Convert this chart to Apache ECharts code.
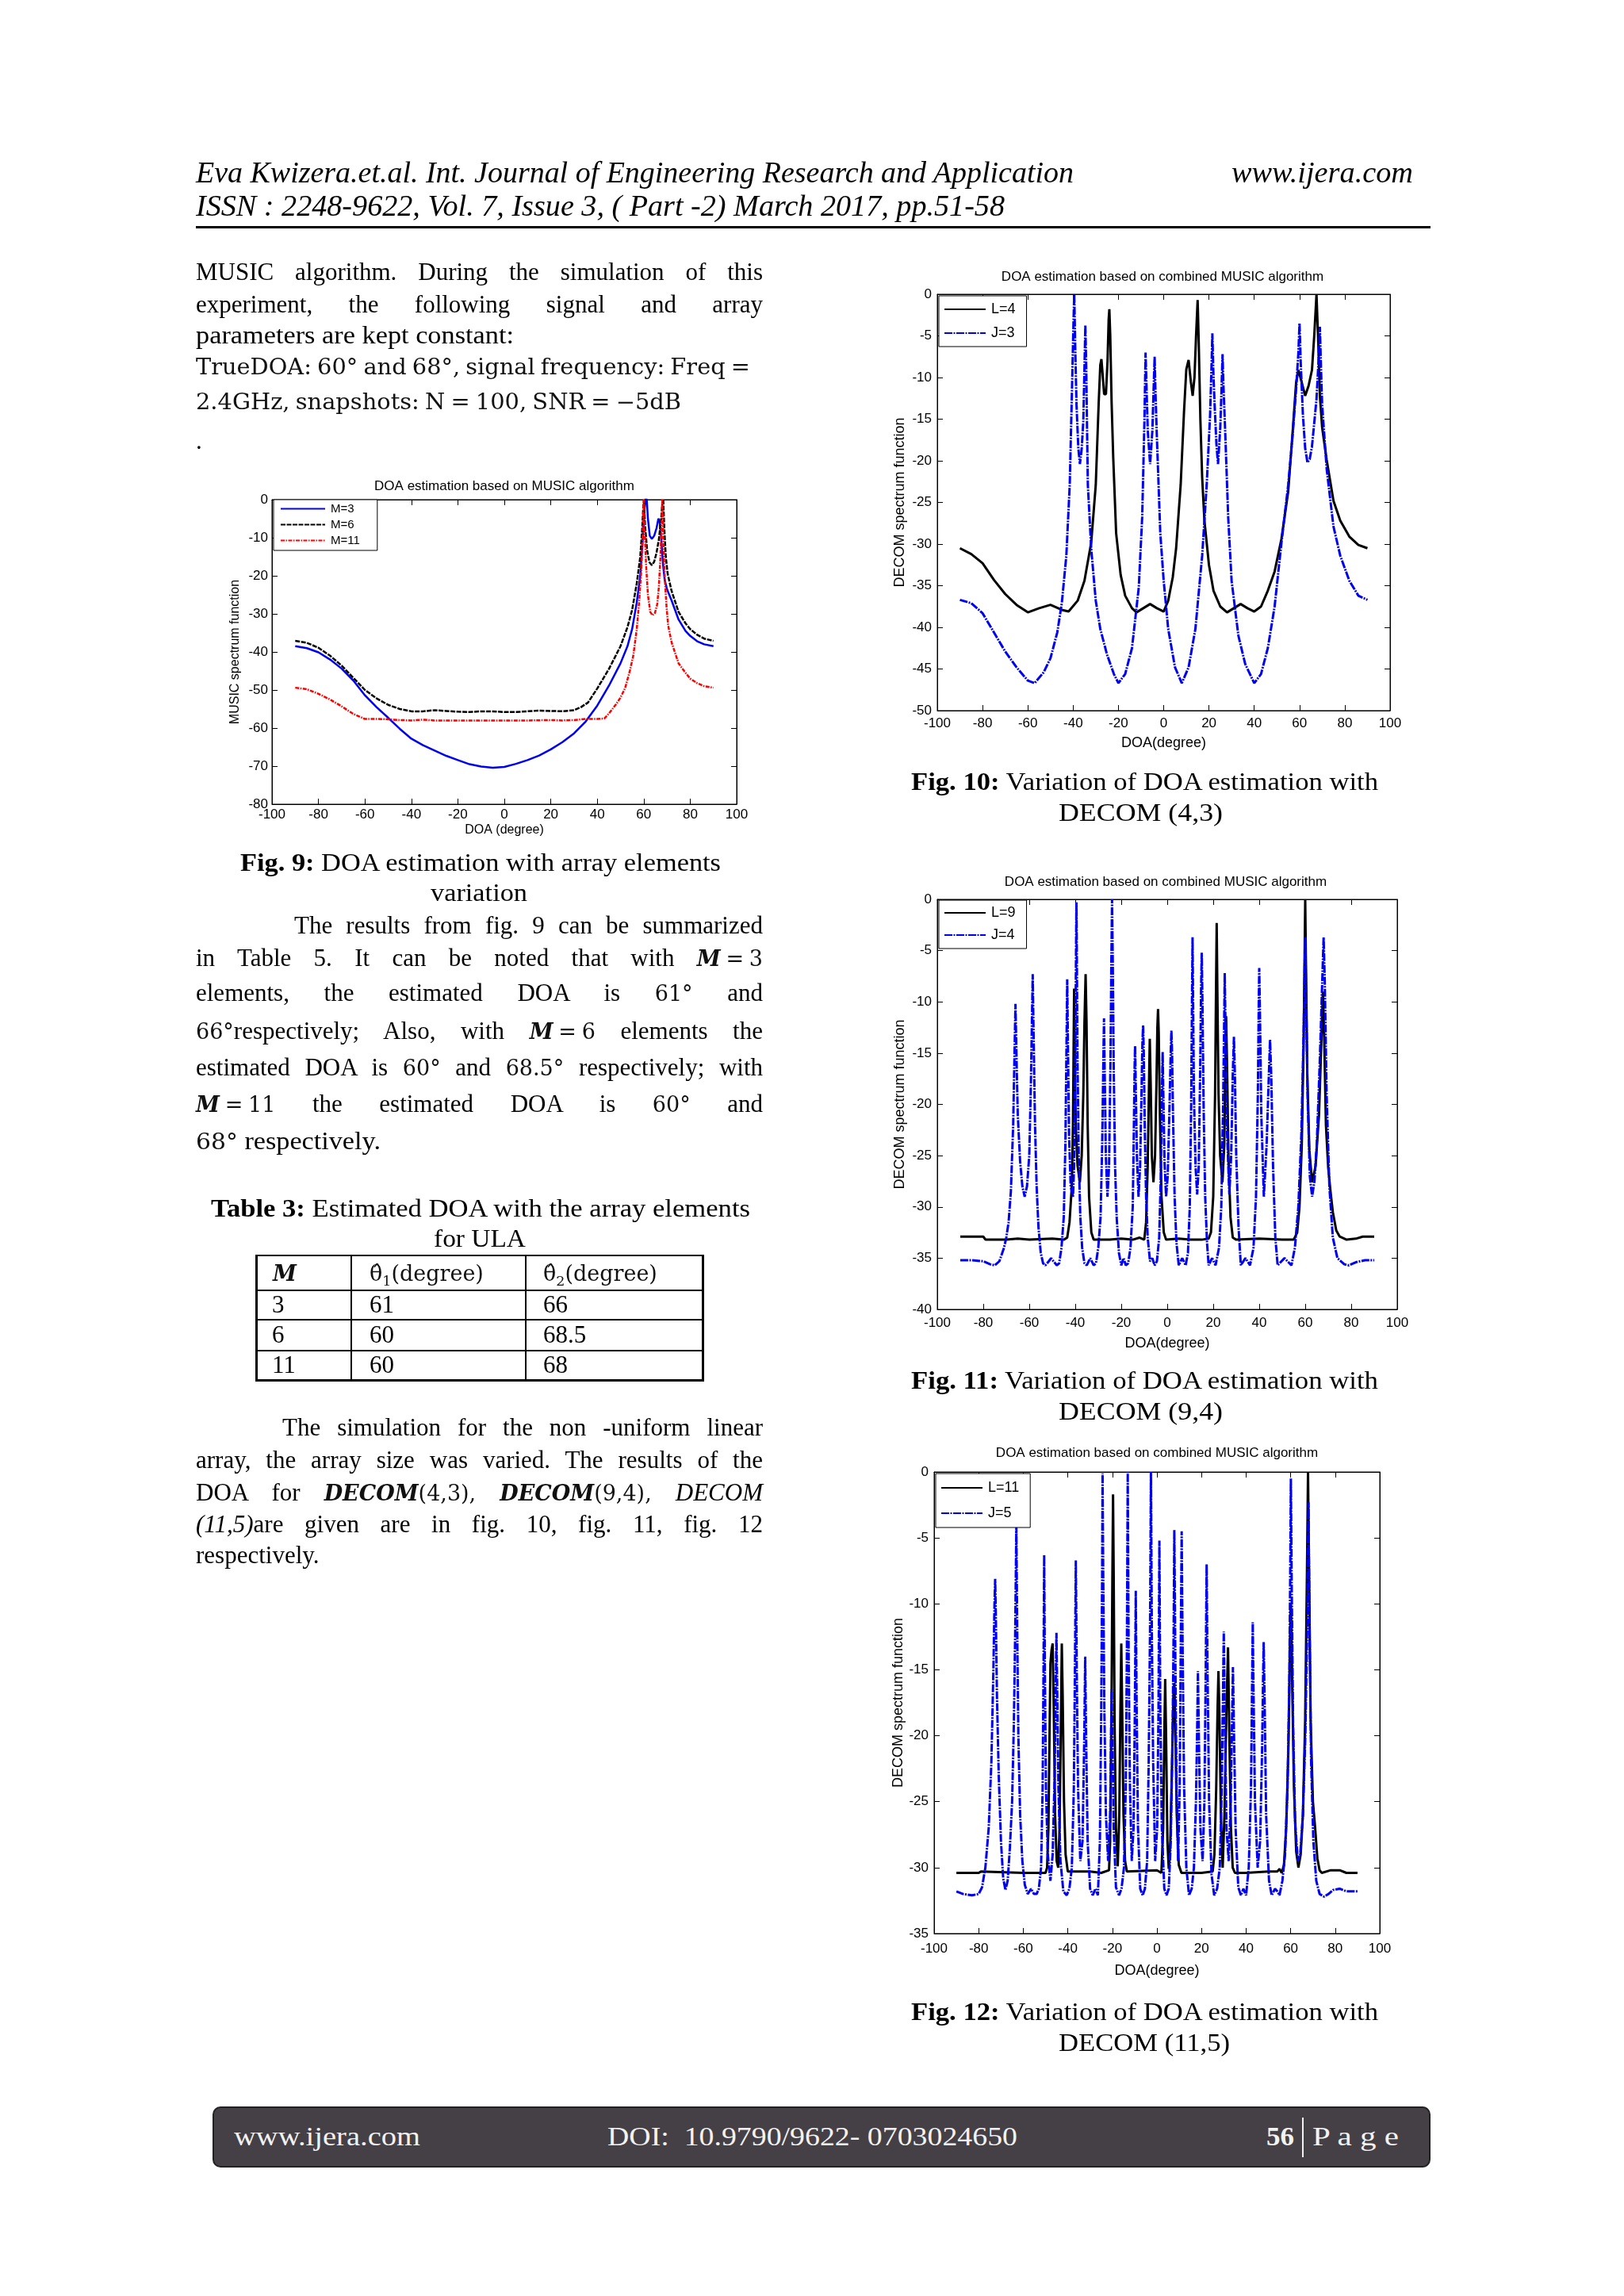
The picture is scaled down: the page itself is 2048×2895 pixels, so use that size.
<!DOCTYPE html>
<html><head><meta charset="utf-8">
<script src="https://cdn.jsdelivr.net/npm/echarts@6/dist/echarts.min.js"></script>
<style>
html,body{margin:0;padding:0;background:#fff;}
#page{position:relative;width:2048px;height:2895px;overflow:hidden;background:#fff;}
#chart{position:absolute;left:0;top:0;width:2048px;height:2895px;z-index:1;}
.t{position:absolute;white-space:nowrap;font-family:'Liberation Serif','Times New Roman',serif;font-size:31px;line-height:40px;color:#000;transform-origin:0 50%;z-index:3;}
.hd{font-style:italic;font-size:37px;line-height:44px;}
.m{font-family:'DejaVu Serif',serif;font-size:27px;color:#111;}
.mi{font-family:'DejaVu Serif',serif;font-style:italic;font-weight:bold;font-size:27px;color:#111;}
.ft{color:#f2f2f2;font-size:34px;}
.ln{position:absolute;background:#000;z-index:3;}
sub{font-size:65%;}
</style></head>
<body><div id="page"><div id="chart"></div></div>
<script>
// ---------------- DATA ----------------
const xRange = [-100, 100, 20];
const fig9YRange = [-80, 0, 10];
const fig10YRange = [-50, 0, 5];
const fig11YRange = [-40, 0, 5];
const fig12YRange = [-35, 0, 5];

const fig9Names = ['M=3', 'M=6', 'M=11'];
const fig9_M3 = [[-90,-38.5],[-85,-39],[-80,-40.1],[-75,-42],[-70,-44.4],[-65,-47.5],[-60,-51.4],[-55,-54.5],[-50,-57.3],[-45,-60.2],[-40,-62.8],[-35,-64.5],[-30,-65.9],[-25,-67.3],[-20,-68.4],[-15,-69.5],[-10,-70.1],[-5,-70.4],[0,-70.2],[5,-69.4],[10,-68.4],[15,-67.2],[20,-65.6],[25,-63.7],[30,-61.4],[35,-58.3],[40,-54.1],[45,-48.9],[50,-43],[53,-38.5],[55,-34],[57,-27],[58.5,-20],[59.5,-11],[60.3,-3],[60.8,0.5],[61.3,0],[61.8,-5],[62.6,-9.5],[63.5,-10.3],[64.5,-9.5],[65.5,-7.5],[66.3,-5],[66.8,-5.5],[67.5,-10],[68.3,-17],[69,-21],[70,-23.5],[72,-26.5],[75,-31.5],[78,-34.5],[80,-35.8],[83,-37.2],[86,-38],[90,-38.5]];
const fig9_M6 = [[-90,-37.1],[-85,-37.6],[-80,-38.9],[-75,-41],[-70,-43.6],[-65,-46.8],[-60,-50],[-55,-52.2],[-50,-53.9],[-45,-55],[-40,-55.6],[-35,-55.6],[-30,-55.3],[-25,-55.5],[-20,-55.7],[-15,-55.8],[-10,-55.6],[-5,-55.6],[0,-55.8],[5,-55.8],[10,-55.6],[15,-55.4],[20,-55.5],[25,-55.6],[30,-55.3],[33,-54.5],[36,-53.3],[40,-49.6],[45,-44.5],[50,-38.5],[53,-33.5],[55,-29],[57,-22],[58.5,-15],[59.3,-8],[59.8,-2],[60.1,0],[60.6,-7],[61.5,-13.5],[62.5,-16.5],[63.5,-17.2],[64.5,-16.3],[65.5,-14],[66.5,-10.5],[67.5,-5],[68,-1],[68.4,0],[68.9,-8],[69.5,-15],[70.3,-19.5],[72,-24],[75,-29.5],[78,-32.5],[80,-34],[83,-35.5],[86,-36.5],[90,-37.1]];
const fig9_M11 = [[-90,-49.4],[-85,-49.8],[-80,-51],[-75,-52.5],[-70,-54.3],[-65,-56.3],[-60,-57.6],[-55,-57.6],[-50,-57.7],[-45,-57.9],[-40,-58],[-35,-57.8],[-30,-58],[-20,-58],[-10,-58],[0,-58],[10,-58],[20,-57.9],[25,-58],[30,-57.9],[35,-57.6],[40,-57.6],[43,-57.5],[45,-56.2],[48,-53.8],[50,-52],[52,-49.5],[54,-45],[55.5,-41],[57,-34],[58,-27],[59,-18],[59.6,-8],[60,0],[60.4,-8],[61,-17],[61.8,-25],[62.8,-29.5],[63.8,-30.4],[64.8,-29.8],[65.8,-27.5],[66.5,-23],[67.2,-15],[67.7,-6],[68,0],[68.4,-10],[69,-20],[69.8,-28],[70.5,-33],[72,-37.5],[75,-43],[78,-45.5],[80,-47],[83,-48.2],[86,-49],[90,-49.4]];

const fig10Names = ['L=4', 'J=3'];
const fig10_L4 = [[-90,-30.5],[-85,-31.2],[-80,-32.3],[-75,-34.3],[-70,-36],[-65,-37.3],[-60,-38.2],[-55,-37.7],[-50,-37.3],[-45,-37.9],[-42,-38.1],[-38,-36.8],[-35,-34.4],[-32,-29.8],[-30,-22.9],[-28.7,-13],[-28,-8.5],[-27.5,-7.8],[-27,-9.5],[-26.3,-12],[-25.5,-12],[-24.8,-8],[-24.3,-3],[-24,-1.8],[-23.6,-5],[-23,-13],[-22.3,-19.5],[-21,-28.7],[-19,-33.7],[-17,-36.2],[-14,-37.7],[-12,-38.2],[-9,-37.7],[-6,-37.2],[-3,-37.7],[0,-38.1],[2,-36.8],[4,-34],[5.5,-30.5],[7.5,-22.9],[9,-14],[10,-9],[11,-7.9],[12,-10.5],[12.8,-12.2],[13.6,-10],[14.3,-5],[15,-0.7],[15.5,-6],[16.2,-15],[17,-22],[18,-27.2],[20,-32.5],[22,-35.6],[25,-37.5],[28,-38.2],[31,-37.7],[34,-37.2],[37,-37.7],[40,-38.1],[43,-37.5],[46,-35.6],[49,-33.3],[52,-29.4],[55,-23.7],[57,-16.4],[58.5,-10.6],[59.5,-9.1],[61,-10.6],[62.5,-12.2],[64,-11],[65.5,-9.1],[66.5,-5],[67.5,0],[68.3,-6],[69,-12.2],[70,-16],[72,-19.9],[75,-24.8],[78,-27.2],[82,-29.1],[86,-30.1],[90,-30.5]];
const fig10_J3 = [[-90,-36.7],[-85,-37.1],[-80,-38.3],[-75,-40.6],[-70,-42.9],[-65,-44.8],[-60,-46.4],[-57,-46.7],[-53,-45.4],[-50,-43.7],[-47,-40.6],[-45,-37.1],[-43,-31.4],[-41.5,-22.9],[-40.5,-11.4],[-39.8,-3],[-39.5,0],[-39.1,-6],[-38.5,-13.3],[-37.7,-18.5],[-37,-20.4],[-36.2,-18.5],[-35.5,-15.2],[-35,-9],[-34.6,-3.7],[-34.2,-9],[-33.5,-22.9],[-32,-30.6],[-30,-36.8],[-28,-40.2],[-25,-43.3],[-22,-45.6],[-20,-46.7],[-17,-45.6],[-14,-42.5],[-11,-35.2],[-9.5,-26.8],[-8.5,-15.2],[-8,-7],[-7.5,-12],[-7,-16.5],[-6,-20.4],[-5,-16.4],[-4.4,-11],[-4,-7.5],[-3.6,-12],[-3,-17.2],[-1.5,-28.7],[0,-34.4],[2,-40.2],[5,-44.8],[8,-46.7],[11,-44.8],[14,-40.2],[17,-31.4],[19,-22.9],[20.5,-14.5],[21.2,-8],[21.5,-4.7],[21.9,-9],[22.5,-13.3],[23.3,-18],[24,-20.4],[25,-16],[25.6,-11],[26,-7.2],[26.4,-11],[27,-15.2],[28.5,-26.8],[30,-34.4],[33,-41],[36,-44.4],[40,-46.7],[43,-45.6],[46,-42.5],[49,-37.5],[52,-29.9],[55,-22.9],[57,-16.8],[58.5,-11.4],[59.5,-7],[60,-3.5],[60.5,-8],[61.5,-14.5],[62.5,-18.5],[63.5,-20.2],[64.5,-19.8],[65.5,-18.3],[67.5,-12.6],[68.4,-8],[69,-3.9],[69.5,-9],[70,-13.3],[72,-21],[75,-27.9],[78,-31.4],[82,-34.4],[86,-36.2],[90,-36.7]];

const fig11Names = ['L=9', 'J=4'];
const fig11_L9 = [[-90,-32.9],[-80,-32.9],[-79,-33.2],[-70,-33.2],[-65,-33.1],[-60,-33.2],[-50,-33.1],[-45,-33.2],[-43.5,-33],[-42.5,-31.5],[-41.5,-28],[-41,-22],[-40.7,-14],[-40.5,-8.7],[-40.2,-15],[-39.8,-22],[-39,-26],[-38,-27.6],[-37.2,-25],[-36.5,-19],[-36,-12],[-35.5,-7.3],[-35.1,-12],[-34.6,-22],[-34,-29],[-33,-32.5],[-32,-33.2],[-25,-33.2],[-20,-33.1],[-15,-33.2],[-12,-33],[-10,-33.2],[-9.2,-31.5],[-8.5,-26],[-8,-19],[-7.6,-13.6],[-7.2,-18],[-6.7,-25],[-6,-27.6],[-5.3,-25],[-4.7,-18],[-4.3,-12.5],[-4,-10.7],[-3.7,-13],[-3.2,-21],[-2.5,-29],[-1.5,-32.5],[-0.5,-33.2],[5,-33.1],[10,-33.2],[15,-33.2],[18,-33.1],[19,-32.5],[20,-29],[20.8,-19],[21.2,-9],[21.5,-2.3],[21.8,-9],[22.3,-19],[23,-25],[24,-27.6],[24.8,-24],[25.3,-16],[25.6,-11.4],[26,-16],[26.6,-25],[27.5,-31],[28.5,-33],[30,-33.2],[40,-33.1],[50,-33.2],[55,-33.2],[56.5,-32.5],[57.5,-30],[58.5,-24],[59.3,-14],[59.8,-4],[60,0],[60.3,-6],[60.9,-17],[61.8,-24.5],[63,-27.6],[64.5,-26],[66,-21],[67,-14],[67.7,-9],[68.3,-14],[69,-22],[70,-26.2],[71,-28.5],[72,-30.5],[73.5,-32.3],[75,-32.9],[78,-33.2],[82,-33.1],[85,-32.9],[90,-32.9]];
const fig11_J4 = [[-90,-35.2],[-85,-35.2],[-80,-35.3],[-77,-35.6],[-75,-35.7],[-73,-35.3],[-71,-34],[-70,-33],[-69,-31.5],[-68,-28.5],[-67,-22],[-66.5,-16],[-66,-10.2],[-65.5,-16],[-65,-21],[-64,-25.5],[-63,-28],[-62,-29],[-61,-28],[-60,-25],[-59.3,-18],[-58.7,-10],[-58.5,-7.3],[-58.2,-12],[-57.5,-22],[-56.8,-28],[-56,-32],[-55,-34.5],[-54,-35.5],[-53,-35.7],[-51.5,-35.3],[-50.5,-35],[-49.5,-35.3],[-48,-35.7],[-47,-35.5],[-46,-34],[-45,-31],[-44.3,-24],[-43.8,-14],[-43.5,-7.8],[-43.2,-14],[-42.7,-23],[-42,-28],[-41,-29],[-40.5,-26],[-40,-16],[-39.7,-6],[-39.5,-0.3],[-39.3,-6],[-39,-16],[-38.5,-25],[-37.8,-31],[-37,-34],[-36,-35.5],[-35,-35.7],[-33.5,-35],[-32,-35.7],[-31,-35.5],[-30,-34],[-29,-31],[-28.3,-24],[-27.8,-16],[-27.5,-11.6],[-27.2,-17],[-26.7,-25],[-26,-29],[-25.3,-26],[-24.7,-16],[-24.3,-6],[-24,0],[-23.7,-6],[-23.3,-16],[-22.7,-26],[-22,-31],[-21,-34.5],[-20,-35.7],[-19,-35],[-18,-35.7],[-17,-35.5],[-16,-34],[-15,-30],[-14.5,-22],[-14.2,-16.5],[-14,-14.3],[-13.7,-18],[-13.2,-25],[-12.5,-29],[-11.8,-26],[-11.2,-19],[-10.8,-14],[-10.5,-12.3],[-10.2,-15],[-9.8,-22],[-9.2,-29],[-8.5,-33],[-7.5,-35.3],[-6.5,-35],[-5.5,-35.7],[-4.5,-35.3],[-3.5,-33],[-2.8,-27],[-2.3,-19],[-2,-14.9],[-1.7,-19],[-1.2,-25.5],[-0.5,-29],[0.2,-27],[0.9,-21],[1.5,-15],[1.8,-12.8],[2.1,-15],[2.5,-21],[3.2,-29],[4,-33.5],[5,-35.7],[6.5,-35],[8,-35.7],[9,-34.5],[9.8,-30],[10.4,-20],[10.8,-9],[11,-3.7],[11.2,-9],[11.6,-19],[12.3,-26],[13,-28.8],[13.7,-26],[14.3,-17],[14.7,-9],[15,-5.2],[15.3,-10],[15.8,-20],[16.5,-29],[17.3,-33.5],[18,-35.7],[19.5,-35],[21,-35.7],[22.5,-34],[23.5,-30],[24.3,-20],[24.8,-11],[25,-7.2],[25.3,-12],[25.9,-22],[27,-28.8],[27.8,-25],[28.5,-17],[29,-13.4],[29.4,-17],[30,-25],[31,-32],[32,-35.7],[34,-35],[36,-35.7],[37.5,-34],[38.6,-29],[39.4,-19],[39.8,-10],[40,-6.7],[40.3,-11],[40.9,-21],[42,-29],[43.2,-24],[44.2,-17],[44.7,-13.7],[45.2,-17],[46,-26],[47,-33],[48,-35.7],[51,-35],[54,-35.7],[55.5,-34],[57,-30],[58.3,-23],[59.3,-13],[59.8,-6],[60,-3.7],[60.3,-8],[61,-19],[62,-27],[63,-29],[64,-27.5],[65,-24],[66.3,-16],[67.4,-8],[68,-3.7],[68.5,-8],[69.3,-19],[70.5,-28],[72,-33],[74,-35],[77,-35.6],[79,-35.7],[82,-35.4],[86,-35.2],[90,-35.2]];

const fig12Names = ['L=11', 'J=5'];
const fig12_L11 = [[-90,-30.4],[-80,-30.4],[-79,-30.3],[-60,-30.4],[-50,-30.4],[-49.3,-30],[-48.7,-27],[-48.2,-20],[-47.8,-14.5],[-47.3,-13.5],[-46.8,-13],[-46.3,-18],[-45.7,-26],[-45,-29.5],[-44.3,-30],[-43.7,-27],[-43.1,-19],[-42.7,-13],[-42.3,-17],[-41.7,-25],[-41,-29],[-40,-30.3],[-30,-30.3],[-25,-30.4],[-21.5,-30.2],[-21,-28],[-20.4,-18],[-20,-8],[-19.7,-1.7],[-19.4,-8],[-19,-19],[-18.4,-27],[-17.6,-29.9],[-16.9,-26],[-16.4,-18],[-16,-13],[-15.6,-18],[-15,-26],[-14.3,-29.5],[-13.5,-30.3],[0,-30.2],[2,-30.4],[2.8,-27],[3.3,-20],[3.7,-15.7],[4.1,-20],[4.7,-28],[5.3,-30.1],[6,-28],[6.8,-22],[7.4,-17],[7.8,-16],[8.2,-19],[8.9,-26],[9.8,-29.8],[11,-30.4],[20,-30.4],[25,-30.3],[25.8,-29],[26.6,-24],[27.2,-18],[27.6,-15.1],[28,-18],[28.7,-26],[29.5,-30],[30.3,-26],[31.2,-18],[31.9,-13.3],[32.4,-19],[33.2,-27],[34,-30],[35,-30.4],[40,-30.4],[50,-30.3],[54,-30.3],[55,-30.1],[56,-30.4],[57,-29.8],[58,-27],[59,-21],[59.7,-13],[60.1,-10],[60.6,-15],[61.5,-24],[62.5,-28.8],[63.5,-30],[64.5,-29],[65.5,-26],[66.5,-19],[67.3,-8],[67.8,0],[68.3,-8],[69,-19],[70,-25],[71,-27],[72,-29.3],[73,-30.2],[74,-30.4],[78,-30.2],[82,-30.2],[85,-30.4],[90,-30.4]];
const fig12_J5 = [[-90,-31.8],[-87,-32],[-83,-32.1],[-80,-32],[-78.5,-31.5],[-77,-30],[-75.5,-27],[-74.3,-22],[-73.4,-15],[-72.9,-10],[-72.6,-8.1],[-72.3,-11],[-71.8,-17],[-71,-23],[-70,-28],[-69,-30.8],[-68,-31.7],[-67,-31],[-66,-28.5],[-65,-25],[-64.2,-19],[-63.6,-12],[-63.1,-4.2],[-62.7,-12],[-62.2,-20],[-61.4,-26],[-60.4,-29.5],[-59.3,-31.3],[-58,-32],[-56.5,-31.6],[-55.2,-32],[-54,-32],[-53,-31.6],[-52,-30],[-51.3,-24],[-50.9,-15],[-50.6,-6.3],[-50.3,-15],[-49.8,-24],[-49,-29],[-47.8,-31],[-46.8,-29],[-45.9,-23],[-45.4,-16],[-45.1,-12.2],[-44.8,-16],[-44.2,-24],[-43.3,-29.5],[-42,-31.8],[-40.5,-32.1],[-39.3,-31.6],[-38.2,-30],[-37.3,-24],[-36.8,-15],[-36.4,-6.7],[-36,-15],[-35.4,-24],[-34.4,-29.5],[-33.4,-28],[-32.6,-20],[-32.2,-14],[-31.8,-20],[-31.1,-28],[-30,-31.6],[-28.8,-32.1],[-27.6,-31.6],[-26.5,-32.1],[-25.6,-28],[-25,-18],[-24.6,-8],[-24.4,-0.1],[-24.1,-8],[-23.6,-18],[-22.9,-26],[-21.9,-29.5],[-21,-26],[-20.6,-20],[-20.3,-16.5],[-20,-20],[-19.4,-27],[-18.4,-31.5],[-17,-32.1],[-15.9,-31.6],[-14.8,-30],[-14,-24],[-13.5,-14],[-13.1,0],[-12.7,-14],[-12.1,-24],[-11.3,-29.5],[-10.5,-27],[-9.9,-18],[-9.5,-9],[-9.1,-18],[-8.5,-27],[-7.5,-31.6],[-6.4,-32.1],[-5.4,-31.6],[-4.4,-29.5],[-3.7,-22],[-3.1,-12],[-2.7,0],[-2.3,-12],[-1.7,-22],[-0.8,-29.5],[0.1,-27],[0.7,-18],[1.1,-5.2],[1.5,-18],[2.2,-27],[3.3,-31.6],[4.3,-32.1],[5.3,-31.6],[6.2,-28],[7,-20],[7.5,-12],[7.8,-4.4],[8.2,-13],[8.8,-24],[9.5,-29.5],[10.2,-24],[10.7,-13],[11.1,-4.5],[11.5,-13],[12.2,-24],[13.2,-30],[14.4,-32.1],[15.6,-31.6],[16.6,-30],[17.5,-25],[18.1,-19],[18.4,-15.1],[18.8,-20],[19.5,-27],[20.5,-29.5],[21.3,-25],[21.9,-15],[22.3,-7],[22.7,-15],[23.4,-25],[24.5,-30.5],[25.7,-32.1],[27,-31.6],[28.2,-30],[29.1,-24],[29.7,-16],[30,-12.1],[30.4,-18],[31.2,-27],[32.2,-29.5],[33.1,-25],[33.8,-18],[34.1,-14.8],[34.5,-19],[35.3,-27],[36.5,-31.5],[37.7,-32.1],[38.8,-31.6],[40,-32.1],[41.2,-30],[42.2,-24],[42.7,-16],[43,-11.4],[43.3,-16],[44,-25],[45.2,-30],[46.3,-28],[47.2,-21],[47.6,-16],[47.9,-12.9],[48.3,-17],[49,-26],[50.3,-31],[51.5,-32.1],[53,-31.6],[54,-31.8],[55,-32.1],[56.3,-31],[57.5,-29],[58.6,-24],[59.4,-16],[59.8,-8],[60.1,-0.5],[60.5,-9],[61.1,-19],[62,-26.5],[63.2,-29.5],[64.3,-29],[65.5,-26],[66.6,-20],[67.4,-12],[68,-2.3],[68.5,-12],[69.2,-22],[70.2,-28],[71.5,-31],[73,-32],[75,-32.2],[77,-32],[79,-31.7],[82,-31.6],[85,-31.8],[90,-31.8]];

// ---------------- CHARTS ----------------
const SANS = "'Liberation Sans', Arial, sans-serif";
const chart = echarts.init(document.getElementById('chart'), null, {renderer: 'canvas', width: 2048, height: 2895});

const grids = [
  {left: 343, top: 630, width: 586, height: 384},
  {left: 1182, top: 371, width: 571, height: 525},
  {left: 1182, top: 1134, width: 580, height: 517},
  {left: 1178, top: 1856, width: 562, height: 582}
];
const xAxes = [], yAxes = [];
function mkAxes(gi, yr, xName, yName, xGap, yGap, xMargin, yMargin, nfs) {
  const base = {type: 'value', gridIndex: gi, splitLine: {show: false},
    axisLine: {show: true, onZero: false, lineStyle: {color: '#000', width: 1}},
    axisTick: {show: true, inside: true, length: 7, lineStyle: {color: '#000', width: 1}}};
  const lab = (m) => ({color: '#000', fontSize: 17, fontFamily: SANS, margin: m, showMinLabel: true, showMaxLabel: true});
  const nts = {color: '#000', fontSize: nfs, fontFamily: SANS};
  xAxes.push(Object.assign({}, base, {min: xRange[0], max: xRange[1], interval: xRange[2], position: 'bottom',
    axisLabel: lab(xMargin), name: xName, nameLocation: 'middle', nameGap: xGap, nameTextStyle: nts}));
  xAxes.push(Object.assign({}, base, {min: xRange[0], max: xRange[1], interval: xRange[2], position: 'top', axisLabel: {show: false}}));
  yAxes.push(Object.assign({}, base, {min: yr[0], max: yr[1], interval: yr[2], position: 'left',
    axisLabel: lab(yMargin), name: yName, nameLocation: 'middle', nameGap: yGap, nameTextStyle: nts}));
  yAxes.push(Object.assign({}, base, {min: yr[0], max: yr[1], interval: yr[2], position: 'right', axisLabel: {show: false}}));
}
mkAxes(0, fig9YRange, 'DOA (degree)', 'MUSIC spectrum function', 25, 38, 5, 5, 16);
mkAxes(1, fig10YRange, 'DOA(degree)', 'DECOM spectrum function', 32, 38, 8, 7, 18);
mkAxes(2, fig11YRange, 'DOA(degree)', 'DECOM spectrum function', 34, 38, 9, 7, 18);
mkAxes(3, fig12YRange, 'DOA(degree)', 'DECOM spectrum function', 38, 35, 11, 7, 18);

const DASHDOT = [10, 1.5, 2, 1.5];
function ser(gi, name, data, color, width, type, z) {
  return {type: 'line', name: name, xAxisIndex: 2 * gi, yAxisIndex: 2 * gi, data: data,
    symbol: 'none', showSymbol: false, clip: true, z: z, animation: false,
    lineStyle: {color: color, width: width, type: type}, itemStyle: {color: color}};
}
const series = [
  ser(0, fig9Names[0], fig9_M3, '#0000f0', 2.5, 'solid', 2),
  ser(0, fig9Names[1], fig9_M6, '#000000', 2.5, [6, 1.5], 3),
  ser(0, fig9Names[2], fig9_M11, '#ff0000', 2.5, [5, 1.5, 1.5, 1.5], 4),
  ser(1, fig10Names[0], fig10_L4, '#000000', 3, 'solid', 2),
  ser(1, fig10Names[1], fig10_J3, '#0000f0', 3, DASHDOT, 3),
  ser(2, fig11Names[0], fig11_L9, '#000000', 3, 'solid', 2),
  ser(2, fig11Names[1], fig11_J4, '#0000f0', 3, DASHDOT, 3),
  ser(3, fig12Names[0], fig12_L11, '#000000', 3, 'solid', 2),
  ser(3, fig12Names[1], fig12_J5, '#0000f0', 3, DASHDOT, 3)
];
function leg(names, left, top, fs, iw, gap, pad) {
  return {data: names, left: left, top: top, orient: 'vertical', itemWidth: iw, itemHeight: 12, itemGap: gap,
    borderColor: '#000', borderWidth: 1, borderRadius: 0, backgroundColor: '#fff', padding: pad,
    selectedMode: false,
    itemStyle: {color: 'transparent', borderColor: 'transparent', borderWidth: 0, opacity: 0},
    textStyle: {color: '#000', fontSize: fs, fontFamily: SANS, padding: [0, 0, 0, 2]}};
}
const legends = [
  leg(fig9Names, 345, 630, 15, 56, 5, [4, 22, 5, 8]),
  leg(fig10Names, 1184, 373, 18, 52, 12, [8, 14, 8, 6]),
  leg(fig11Names, 1184, 1135, 18, 52, 10, [7, 14, 8, 6]),
  leg(fig12Names, 1180, 1858, 18, 52, 14, [9, 14, 9, 6])
];
const titleDefs = [
  [636, 613, 'DOA estimation based on MUSIC algorithm'],
  [1466, 349, 'DOA estimation based on combined MUSIC algorithm'],
  [1470, 1112, 'DOA estimation based on combined MUSIC algorithm'],
  [1459, 1832, 'DOA estimation based on combined MUSIC algorithm']
];
const graphics = titleDefs.map(t => ({type: 'text', x: t[0], y: t[1], z: 10,
  style: {text: t[2], font: "17px " + SANS, fill: '#000', textAlign: 'center', textVerticalAlign: 'middle', verticalAlign: 'middle'}}));

chart.setOption({
  animation: false,
  backgroundColor: 'transparent',
  grid: grids.map(g => Object.assign({show: true, borderColor: '#000', borderWidth: 1, backgroundColor: '#fff', containLabel: false}, g)),
  xAxis: xAxes, yAxis: yAxes, series: series, legend: legends, graphic: graphics
});

// ---------------- PAGE TEXT ----------------
const page = document.getElementById('page');
const S = '\u2005';
function mth(s){ return '<span class="m">' + s.replace(/ /g, S) + '</span>'; }
function mi(s){ return '<span class="mi">' + s + '</span>'; }
const lines = [
  {x: 247, y: 218, w: 1107, m: 's', c: 'hd', h: 'Eva Kwizera.et.al. Int. Journal of Engineering Research and Application'},
  {x: 1553, y: 218, w: 229, m: 's', c: 'hd', h: 'www.ijera.com'},
  {x: 247, y: 260, w: 1020, m: 's', c: 'hd', h: 'ISSN : 2248-9622, Vol. 7, Issue 3, ( Part -2) March 2017, pp.51-58'},
  {x: 247, y: 343, w: 715, m: 'j', h: 'MUSIC algorithm. During the simulation of this'},
  {x: 247, y: 384, w: 715, m: 'j', h: 'experiment, the following signal and array'},
  {x: 247, y: 423, w: 401, m: 's', h: 'parameters are kept constant:'},
  {x: 247, y: 462, w: 699, m: 's', h: mth('TrueDOA: 60° and 68°, signal frequency: Freq =')},
  {x: 247, y: 506, w: 612, m: 's', h: mth('2.4GHz, snapshots: N = 100, SNR = −5dB')},
  {x: 247, y: 556, h: '.'},
  {x: 303, y: 1088, w: 606, m: 's', h: '<b>Fig. 9:</b> DOA estimation with array elements'},
  {x: 543, y: 1126, w: 122, m: 's', h: 'variation'},
  {x: 371, y: 1167, w: 591, m: 'j', h: 'The results from fig. 9 can be summarized'},
  {x: 247, y: 1208, w: 715, m: 'j', h: 'in Table 5. It can be noted that with ' + mi('M') + mth(' = 3')},
  {x: 247, y: 1252, w: 715, m: 'j', h: 'elements, the estimated DOA is ' + mth('61°') + ' and'},
  {x: 247, y: 1300, w: 715, m: 'j', h: mth('66°') + 'respectively; Also, with ' + mi('M') + mth(' = 6') + ' elements the'},
  {x: 247, y: 1346, w: 715, m: 'j', h: 'estimated DOA is ' + mth('60°') + ' and ' + mth('68.5°') + ' respectively; with'},
  {x: 247, y: 1392, w: 715, m: 'j', h: mi('M') + mth(' = 11') + ' the estimated DOA is ' + mth('60°') + ' and'},
  {x: 247, y: 1439, w: 233, m: 's', h: mth('68°') + ' respectively.'},
  {x: 266, y: 1524, w: 680, m: 's', h: '<b>Table 3:</b> Estimated DOA with the array elements'},
  {x: 547, y: 1562, w: 116, m: 's', h: 'for ULA'},
  {x: 344, y: 1605, h: mi('M')},
  {x: 466, y: 1605, h: mth('θ\u0302<sub>1</sub>(degree)')},
  {x: 685, y: 1605, h: mth('θ\u0302<sub>2</sub>(degree)')},
  {x: 343, y: 1645, h: '3'}, {x: 466, y: 1645, h: '61'}, {x: 685, y: 1645, h: '66'},
  {x: 343, y: 1683, h: '6'}, {x: 466, y: 1683, h: '60'}, {x: 685, y: 1683, h: '68.5'},
  {x: 343, y: 1721, h: '11'}, {x: 466, y: 1721, h: '60'}, {x: 685, y: 1721, h: '68'},
  {x: 356, y: 1800, w: 606, m: 'j', h: 'The simulation for the non -uniform linear'},
  {x: 247, y: 1841, w: 715, m: 'j', h: 'array, the array size was varied. The results of the'},
  {x: 247, y: 1882, w: 715, m: 'j', h: 'DOA for ' + mi('DECOM') + mth('(4,3),') + ' ' + mi('DECOM') + mth('(9,4),') + ' <i>DECOM</i>'},
  {x: 247, y: 1922, w: 715, m: 'j', h: '<i>(11,5)</i>are given are in fig. 10, fig. 11, fig. 12'},
  {x: 247, y: 1961, h: 'respectively.'},
  {x: 1149, y: 986, w: 589, m: 's', h: '<b>Fig. 10:</b> Variation of DOA estimation with'},
  {x: 1335, y: 1025, w: 207, m: 's', h: 'DECOM (4,3)'},
  {x: 1149, y: 1741, w: 589, m: 's', h: '<b>Fig. 11:</b> Variation of DOA estimation with'},
  {x: 1335, y: 1780, w: 207, m: 's', h: 'DECOM (9,4)'},
  {x: 1149, y: 2537, w: 589, m: 's', h: '<b>Fig. 12:</b> Variation of DOA estimation with'},
  {x: 1335, y: 2576, w: 216, m: 's', h: 'DECOM (11,5)'},
  {x: 295, y: 2694, w: 235, m: 's', c: 'ft', h: 'www.ijera.com'},
  {x: 766, y: 2694, w: 517, m: 's', c: 'ft', h: 'DOI:&nbsp; 10.9790/9622- 0703024650'},
  {x: 1597, y: 2694, w: 35, m: 's', c: 'ft', h: '<b>56</b>'},
  {x: 1655, y: 2694, w: 109, m: 's', c: 'ft', h: 'P a g e'}
];
function box(x, y, w, h, css) {
  const d = document.createElement('div');
  d.className = 'ln';
  d.style.cssText += 'left:' + x + 'px;top:' + y + 'px;width:' + w + 'px;height:' + h + 'px;' + (css || '');
  page.appendChild(d);
}
box(247, 285, 1557, 3);
box(323, 1582, 565, 2); box(323, 1626, 565, 2); box(323, 1663, 565, 2); box(323, 1702, 565, 2); box(323, 1739, 565, 3);
box(322, 1582, 3, 160); box(442, 1582, 2, 160); box(662, 1582, 2, 160); box(885, 1582, 3, 160);
box(268, 2656, 1536, 77, 'background:#444045;border:2px solid #222;border-radius:10px;box-sizing:border-box;z-index:2;');
box(1642, 2670, 2, 50, 'background:#f2f2f2;z-index:4;');

lines.forEach(l => {
  const d = document.createElement('div');
  d.className = 't ' + (l.c || '');
  d.innerHTML = l.h;
  d.style.left = l.x + 'px';
  page.appendChild(d);
  const lh = parseFloat(getComputedStyle(d).lineHeight) || 40;
  d.style.top = (l.y - lh / 2) + 'px';
  const nat = d.getBoundingClientRect().width;
  if (l.w && nat > 0) {
    if (l.m === 'j') {
      const n = (d.textContent.match(/ /g) || []).length;
      const extra = n ? (l.w - nat) / n : 0;
      if (extra >= 0) d.style.wordSpacing = extra + 'px';
      else d.style.transform = 'scaleX(' + (l.w / nat) + ')';
    } else {
      d.style.transform = 'scaleX(' + (l.w / nat) + ')';
    }
  }
});
</script>
</body></html>
